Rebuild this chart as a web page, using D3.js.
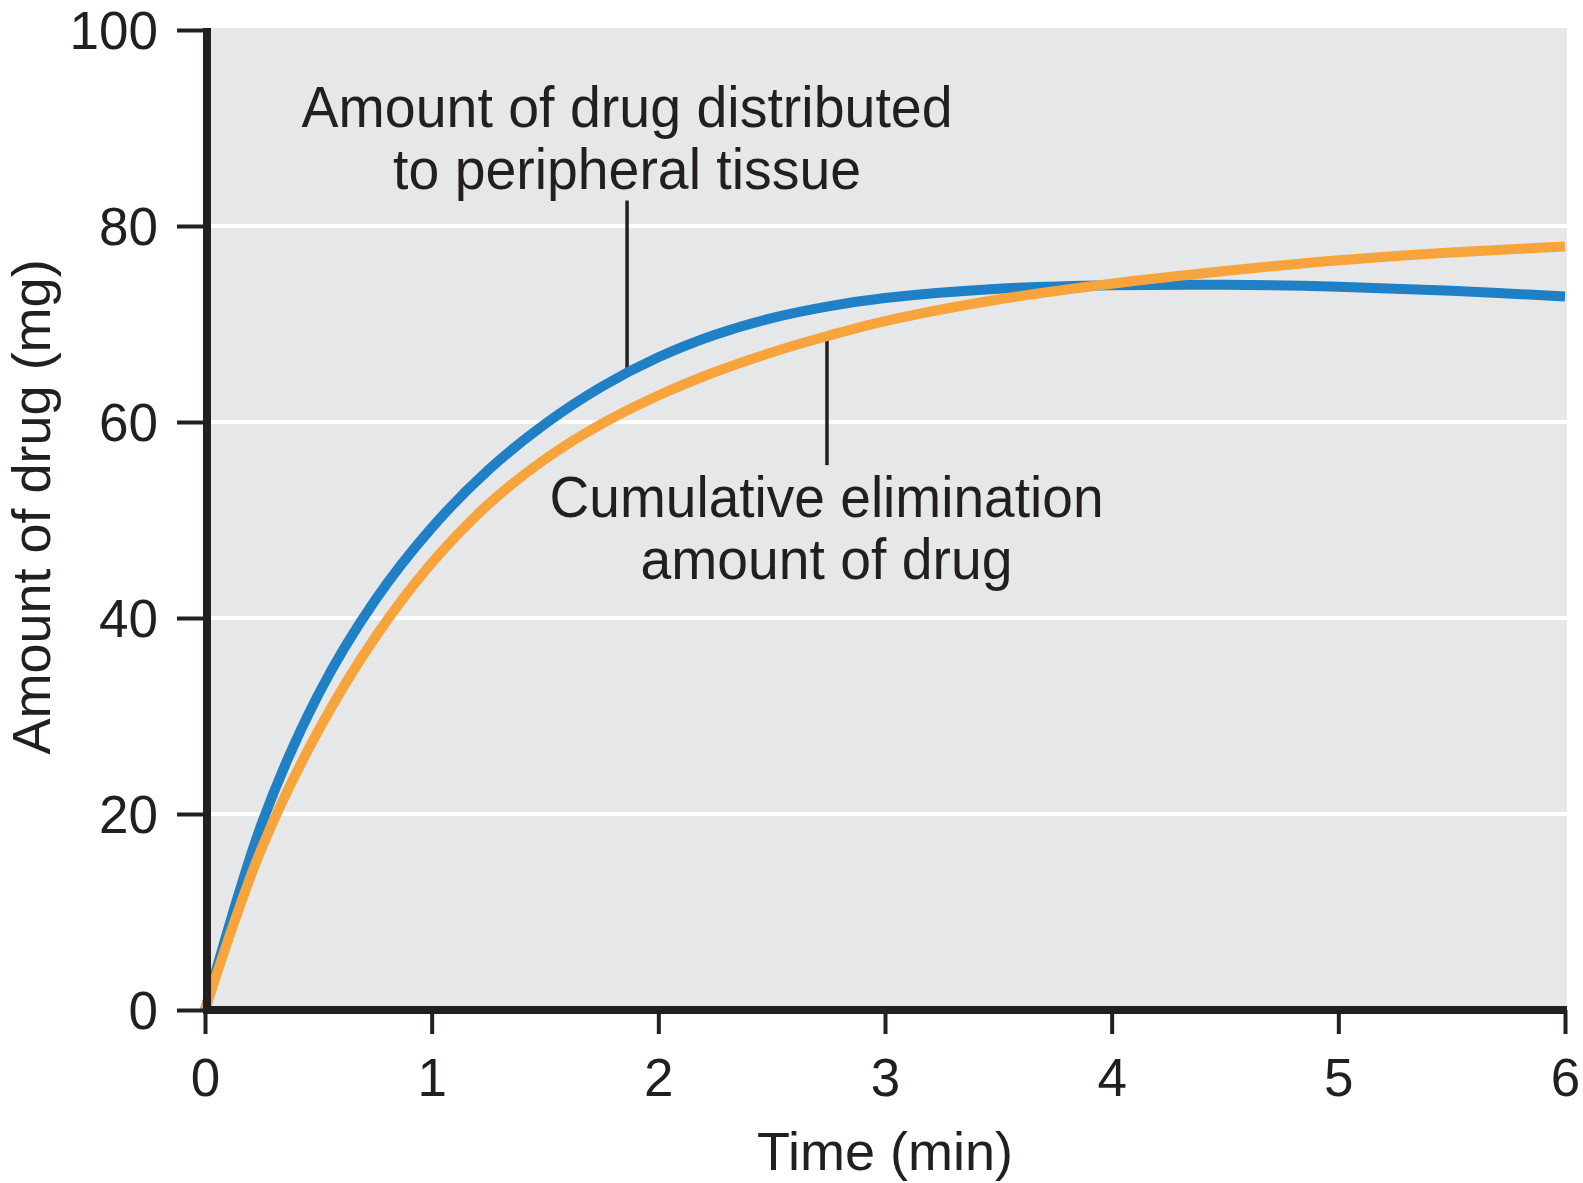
<!DOCTYPE html>
<html>
<head>
<meta charset="utf-8">
<script src="https://cdn.jsdelivr.net/npm/d3@7"></script>
<style>
  html, body { margin: 0; padding: 0; background: #fff; }
  svg { display: block; }
  text { font-family: "Liberation Sans", Arial, Helvetica, sans-serif; fill: #231f20; }
</style>
</head>
<body>
<div id="wrapper"></div>
<script>
// values
const times       = [0, 0.25, 0.5, 0.75, 1, 1.25, 1.5, 1.75, 2, 2.25, 2.5, 2.75, 3, 3.5, 4, 4.5, 5, 5.5, 6]
const distributed = [0, 19, 32.2, 41.8, 49.2, 55.1, 59.8, 63.6, 66.6, 68.9, 70.6, 71.8, 72.65, 73.6, 73.95, 74, 73.8, 73.4, 72.8]
const eliminated  = [0, 16.5, 28.5, 38, 45.6, 51.6, 56.2, 59.8, 62.7, 65.1, 67.1, 68.8, 70.3, 72.5, 74.1, 75.4, 76.5, 77.3, 77.9]
const xTicks = [0, 1, 2, 3, 4, 5, 6]
const yTicks = [0, 20, 40, 60, 80, 100]
const gridValues = [20, 40, 60, 80]
const xTitle = "Time (min)"
const yTitle = "Amount of drug (mg)"
const labelDistributed = ["Amount of drug distributed", "to peripheral tissue"]
const labelEliminated = ["Cumulative elimination", "amount of drug"]

function drawChart() {
  const dimensions = { width: 1583, height: 1183 }

  const svg = d3.select("#wrapper")
    .append("svg")
    .attr("width", dimensions.width)
    .attr("height", dimensions.height)

  const xScale = d3.scaleLinear().domain([0, 6]).range([205, 1565])
  const yScale = d3.scaleLinear().domain([0, 100]).range([1010, 30])

  // plot background
  svg.append("rect")
    .attr("x", xScale(0) + 2)
    .attr("y", yScale(100) - 2)
    .attr("width", xScale(6) + 2 - xScale(0) - 2)
    .attr("height", yScale(0) - yScale(100) + 2)
    .attr("fill", "#e6e7e8")

  // white grid lines
  svg.append("g")
    .selectAll("line")
    .data(gridValues)
    .join("line")
    .attr("x1", xScale(0))
    .attr("x2", xScale(6) + 2)
    .attr("y1", d => yScale(d))
    .attr("y2", d => yScale(d))
    .attr("stroke", "#fff")
    .attr("stroke-width", 4)

  // leader lines
  const interp = (arr, t) => {
    const i = d3.bisectRight(times, t) - 1
    const f = (t - times[i]) / (times[i + 1] - times[i])
    return arr[i] + f * (arr[i + 1] - arr[i])
  }
  const leaders = [
    { t: 1.862, from: 82.6, to: interp(distributed, 1.862) + 0.5 },
    { t: 2.744, from: interp(eliminated, 2.744) + 0.3, to: 55.6 },
  ]
  svg.append("g")
    .selectAll("line")
    .data(leaders)
    .join("line")
    .attr("x1", d => xScale(d.t))
    .attr("x2", d => xScale(d.t))
    .attr("y1", d => yScale(d.from))
    .attr("y2", d => yScale(d.to))
    .attr("stroke", "#231f20")
    .attr("stroke-width", 3.5)

  // curves
  const line = d3.line()
    .x((d, i) => xScale(times[i]))
    .y(d => yScale(d))
    .curve(d3.curveCatmullRom.alpha(0.5))

  svg.append("path")
    .attr("d", line(distributed))
    .attr("fill", "none")
    .attr("stroke", "#1f80c6")
    .attr("stroke-width", 10)

  svg.append("path")
    .attr("d", line(eliminated))
    .attr("fill", "none")
    .attr("stroke", "#f8a43d")
    .attr("stroke-width", 10)

  // axes
  const yAxis = d3.axisLeft(yScale)
    .tickValues(yTicks)
    .tickFormat(d3.format("d"))
    .tickSize(28)
    .tickPadding(19)
  const yAxisGroup = svg.append("g")
    .attr("transform", `translate(${xScale(0)},0)`)
    .call(yAxis)
  yAxisGroup.select(".domain").remove()
  yAxisGroup.selectAll(".tick line").attr("stroke", "#231f20").attr("stroke-width", 4)
  yAxisGroup.selectAll(".tick text")
    .attr("font-size", 53)
    .attr("font-family", null)
    .attr("fill", "#231f20")
    .attr("dy", "0.35em")

  const xAxis = d3.axisBottom(xScale)
    .tickValues(xTicks)
    .tickFormat(d3.format("d"))
    .tickSize(24)
    .tickPadding(24)
  const xAxisGroup = svg.append("g")
    .attr("transform", `translate(0,${yScale(0)})`)
    .call(xAxis)
  xAxisGroup.select(".domain").remove()
  xAxisGroup.selectAll(".tick line").attr("stroke", "#231f20").attr("stroke-width", 4)
  xAxisGroup.selectAll(".tick text")
    .attr("font-size", 53)
    .attr("font-family", null)
    .attr("fill", "#231f20")

  // thick axis lines
  svg.append("line")
    .attr("x1", xScale(0) + 2).attr("x2", xScale(0) + 2)
    .attr("y1", yScale(100) - 2).attr("y2", yScale(0) + 4)
    .attr("stroke", "#231f20").attr("stroke-width", 8)
  svg.append("line")
    .attr("x1", xScale(0) - 2).attr("x2", xScale(6) + 2)
    .attr("y1", yScale(0)).attr("y2", yScale(0))
    .attr("stroke", "#231f20").attr("stroke-width", 8)

  // axis titles
  svg.append("text")
    .attr("x", 885)
    .attr("y", 1170)
    .attr("text-anchor", "middle")
    .attr("font-size", 54)
    .text(xTitle)

  svg.append("text")
    .attr("transform", "translate(50,507) rotate(-90)")
    .attr("text-anchor", "middle")
    .attr("font-size", 54)
    .text(yTitle)

  // annotations (condensed type)
  const annotations = [
    { lines: labelDistributed, t: 1.862, v: [90.1, 83.8], widths: [651, 468] },
    { lines: labelEliminated, t: 2.742, v: [50.3, 44.0], widths: [554, 372] },
  ]
  annotations.forEach(a => {
    a.lines.forEach((txt, i) => {
      svg.append("text")
        .attr("x", xScale(a.t))
        .attr("y", yScale(a.v[i]))
        .attr("text-anchor", "middle")
        .attr("font-size", 57)
        .attr("textLength", a.widths[i])
        .attr("lengthAdjust", "spacingAndGlyphs")
        .text(txt)
    })
  })
}

drawChart()
</script>
</body>
</html>
